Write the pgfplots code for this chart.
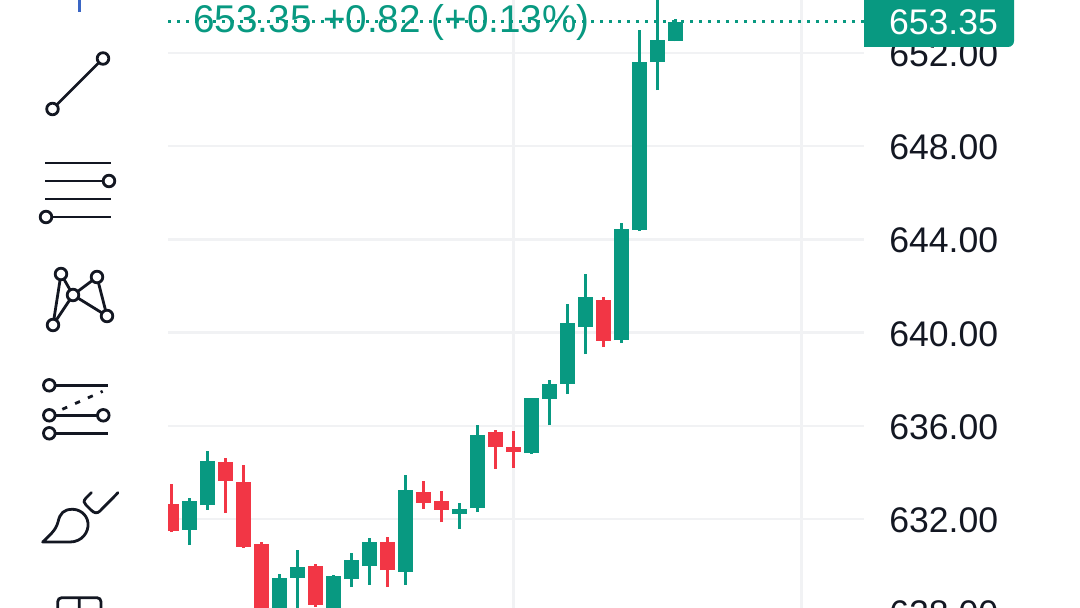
\documentclass[border=0pt]{standalone}
\usepackage{pgfplots}
\usepackage{pgfplotstable}
\usepackage{fontspec}
\setmainfont{Liberation Sans}
\pgfplotsset{compat=1.18}
\definecolor{upc}{HTML}{089981}
\definecolor{downc}{HTML}{F23645}
\definecolor{gridc}{HTML}{F1F2F4}
\definecolor{inkc}{HTML}{131722}
\definecolor{bluec}{HTML}{3A66C4}
% candle high top bot low
\pgfplotstableread{
i high top bot low
1 632.90 632.77 631.53 630.88
2 634.92 634.49 632.60 632.39
6 629.64 629.47 627.80 627.70
7 630.67 629.94 629.47 627.88
9 629.60 629.55 627.90 627.80
10 630.54 630.24 629.42 629.08
11 631.18 631.01 629.98 629.17
13 633.89 633.24 629.73 629.17
16 632.69 632.43 632.21 631.57
17 636.03 635.61 632.47 632.30
20 637.19 637.19 634.83 634.79
21 637.97 637.79 637.15 636.03
22 641.23 640.41 637.79 637.36
23 642.52 641.53 640.24 639.08
25 644.70 644.45 639.68 639.55
26 652.99 651.61 644.40 644.36
27 654.50 652.56 651.61 650.41
28 653.46 653.35 652.52 652.50
}\upcandles
\pgfplotstableread{
i high top bot low
0 633.50 632.64 631.48 631.44
3 634.62 634.45 633.63 632.26
4 634.32 633.59 630.80 630.76
5 631.01 630.93 627.50 627.40
8 630.07 629.98 628.31 628.22
12 631.23 631.01 629.81 629.08
14 633.63 633.16 632.69 632.43
15 633.20 632.77 632.39 631.87
18 635.82 635.73 635.09 634.15
19 635.78 635.09 634.88 634.19
24 641.53 641.40 639.64 639.38
}\downcandles
\newcommand{\candles}[2]{%
  \addplot[draw=none,mark=none,forget plot,error bars/.cd,y dir=plus,y explicit,error mark=none,
    error bar style={draw=#2,line width=2.25pt}]
    table[x=i,y=low,y error expr=\thisrow{high}-\thisrow{low}]{#1};
  \addplot[draw=none,mark=none,forget plot,error bars/.cd,y dir=plus,y explicit,error mark=none,
    error bar style={draw=#2,line width=11.25pt}]
    table[x=i,y=bot,y error expr=\thisrow{top}-\thisrow{bot}]{#1};
}
\begin{document}
\begin{tikzpicture}
\path[use as bounding box] (0,0) rectangle (810pt,455.25pt);
\clip (0,0) rectangle (810pt,455.25pt);
\begin{axis}[
  at={(126pt,-38.85pt)},anchor=south west,
  scale only axis,width=522pt,height=494.1pt,
  xmin=-0.1833,xmax=38.483,ymin=626,ymax=654.275,
  axis line style={draw=none},
  major tick length=0pt,
  xtick={19,35},xticklabels={},
  ytick={628,632,636,640,644,648,652},
  ymajorgrids,xmajorgrids,
  y grid style={draw=gridc,line width=1.9pt},
  x grid style={draw=gridc,line width=2.2pt},
  ytick pos=right,yticklabel pos=right,
  yticklabel style={
    /pgf/number format/fixed,/pgf/number format/fixed zerofill,
    /pgf/number format/precision=2,/pgf/number format/1000 sep={},
    /pgf/number format/assume math mode=true,
    font=\fontsize{26.7pt}{30pt}\selectfont,text=inkc,anchor=west,xshift=18.75pt,yshift=-1pt,inner sep=0pt},
]
\addplot[upc,line width=1.7pt,dash pattern=on 2.2pt off 4.55pt,forget plot] coordinates {(-0.1833,653.35) (38.483,653.35)};
\candles{\upcandles}{upc}
\candles{\downcandles}{downc}
\end{axis}
\begin{scope}[x=0.75pt,y=-0.75pt,yshift=455.25pt]
  % price tag
  \fill[upc] (864,-5) -- (1014,-5) -- (1014,41) arc[start angle=0,end angle=90,radius=6] -- (864,47) -- cycle;
  \node[anchor=center,text=white,font=\fontsize{26.7pt}{30pt}\selectfont,inner sep=0pt] at (943.5,22.5) {653.35};
  \node[anchor=west,text=upc,font=\fontsize{29pt}{30pt}\selectfont,inner sep=0pt] at (193,22.5) {653.35\hspace{0.3em}+0.82 (+0.13\%)};
  % toolbar
  \fill[bluec] (78.3,0) rectangle (81,12);
  \begin{scope}[draw=inkc,line width=2.1pt,line cap=butt]
    \draw (103,58.5) -- (52.5,109);
    \draw (45,163) -- (111,163) (45,181) -- (109,181) (45,199) -- (111,199) (46,217) -- (111,217);
    \draw (61,274) -- (53,325) -- (73,295) -- (61,274) (73,295) -- (97,277) -- (107,316) -- cycle;
    \draw (49,385.5) -- (108,385.5) (49,415.3) -- (103,415.3) (49,433.3) -- (108,433.3);
    \draw[dash pattern=on 4pt off 6.5pt] (62.3,409.3) -- (102.7,391.3);
    \draw[line join=round] (42.7,542) -- (70,542) .. controls (82,542) and (89,532) .. (88,523) .. controls (87,514) and (79,509) .. (72,509.3) .. controls (64,509.5) and (60,513) .. (58,522) .. controls (56,530) and (50,535) .. (42.7,542) -- cycle;
    \draw[line cap=round] (91.3,492.7) -- (86,498) .. controls (83,501) and (84,503) .. (86,505) -- (91,510) .. controls (94,513) and (97,514) .. (100,511) -- (118,492.7);
    \draw[rounded corners=3pt] (57.7,615) -- (57.7,597.7) -- (101,597.7) -- (101,615) (79.3,597.7) -- (79.3,615) (57.7,615) -- (101,615);
    \foreach \p in {(103,58.5),(52.5,109),(109,181),(46,217),(61,274),(97,277),(73,295),(53,325),(107,316),(49.3,385.3),(49.3,415.3),(103.3,415.3),(49.3,433.3)}
      \filldraw[fill=white] \p circle[radius=5.8];
  \end{scope}
\end{scope}
\end{tikzpicture}
\end{document}
